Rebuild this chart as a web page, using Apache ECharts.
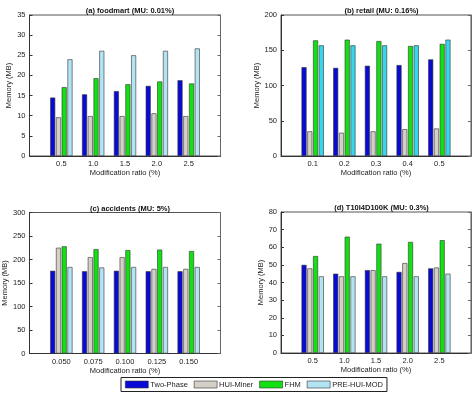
<!DOCTYPE html>
<html>
<head>
<meta charset="utf-8">
<script src="https://cdn.jsdelivr.net/npm/echarts@6/dist/echarts.min.js"></script>
<style>
  html, body { margin: 0; padding: 0; background: #fff; }
  #app { width: 474px; height: 399px; }
</style>
</head>
<body>
<div id="app"></div>
<script>
// series names (legend order)
const methods = ["Two-Phase", "HUI-Miner", "FHM", "PRE-HUI-MOD"];

// (a) foodmart
const foodmartRatios = ["0.5", "1.0", "1.5", "2.0", "2.5"];
const foodmartTwoPhase = [14.5, 15.3, 16.1, 17.4, 18.8];
const foodmartHUIMiner = [9.6, 9.9, 9.9, 10.6, 9.9];
const foodmartFHM = [17.1, 19.3, 17.8, 18.5, 18.0];
const foodmartPRE = [24.0, 26.1, 25.0, 26.1, 26.7];

// (b) retail
const retailRatios = ["0.1", "0.2", "0.3", "0.4", "0.5"];
const retailTwoPhase = [126, 125, 128, 129, 137];
const retailHUIMiner = [35, 33, 35, 38, 39];
const retailFHM = [164, 165, 163, 156, 159];
const retailPRE = [157, 157, 157, 157, 165];

// (c) accidents
const accidentsRatios = ["0.050", "0.075", "0.100", "0.125", "0.150"];
const accidentsTwoPhase = [176, 175, 176, 175, 175];
const accidentsHUIMiner = [225, 205, 205, 180, 180];
const accidentsFHM = [228, 222, 220, 221, 218];
const accidentsPRE = [184, 183, 184, 184, 184];

// (d) T10I4D100K
const t10Ratios = ["0.5", "1.0", "1.5", "2.0", "2.5"];
const t10TwoPhase = [50, 45, 47, 46, 48];
const t10HUIMiner = [48, 43.5, 47, 51, 48.5];
const t10FHM = [55, 66, 62, 63, 64];
const t10PRE = [43.5, 43.5, 43.5, 43.5, 45];

const panels = [
  { title: "(a) foodmart (MU: 0.01%)", cats: foodmartRatios, max: 35, step: 5,
    values: [foodmartTwoPhase, foodmartHUIMiner, foodmartFHM, foodmartPRE],
    grid: { left: 29.5, top: 15, width: 191, height: 141 }, yGap: 15 },
  { title: "(b) retail (MU: 0.16%)", cats: retailRatios, max: 200, step: 50,
    values: [retailTwoPhase, retailHUIMiner, retailFHM, retailPRE],
    grid: { left: 281, top: 15, width: 191, height: 141 }, yGap: 19, preColor: "#36d6ec" },
  { title: "(c) accidents (MU: 5%)", cats: accidentsRatios, max: 300, step: 50,
    values: [accidentsTwoPhase, accidentsHUIMiner, accidentsFHM, accidentsPRE],
    grid: { left: 29.5, top: 212.5, width: 191, height: 141 }, yGap: 18 },
  { title: "(d) T10I4D100K (MU: 0.3%)", cats: t10Ratios, max: 80, step: 10,
    values: [t10TwoPhase, t10HUIMiner, t10FHM, t10PRE],
    grid: { left: 281, top: 212, width: 191, height: 141 }, yGap: 14 }
];

const colors = ["#0a0ad6", "#d4d0c8", "#12e012", "#b2e4f4"];
const font = "Arial, 'Liberation Sans', sans-serif";
const fs = 7.5;

const grids = [], xAxes = [], yAxes = [], titles = [], series = [];

panels.forEach((p, k) => {
  grids.push(Object.assign({ show: true, borderColor: "#555", borderWidth: 1, backgroundColor: "#fff" }, p.grid));
  titles.push({
    text: p.title,
    left: p.grid.left + p.grid.width / 2,
    top: p.grid.top - 13,
    textAlign: "center",
    textStyle: { fontFamily: font, fontSize: fs, fontWeight: "bold", color: "#111" }
  });
  xAxes.push({
    type: "value", gridIndex: k, min: 0, max: 6, interval: 1,
    name: "Modification ratio (%)", nameLocation: "middle", nameGap: 13,
    nameTextStyle: { fontFamily: font, fontSize: fs, color: "#222" },
    axisLine: { lineStyle: { color: "#333" } },
    axisTick: { show: false },
    splitLine: { show: false },
    axisLabel: {
      fontFamily: font, fontSize: fs, color: "#222", margin: 4,
      formatter: v => p.cats[v - 1] || ""
    }
  });
  yAxes.push({
    type: "value", gridIndex: k, min: 0, max: p.max, interval: p.step,
    name: "Memory (MB)", nameLocation: "middle", nameGap: p.yGap,
    nameTextStyle: { fontFamily: font, fontSize: fs, color: "#222" },
    axisLine: { show: true, lineStyle: { color: "#333" } },
    axisTick: { show: true, inside: true, length: 3, lineStyle: { color: "#333" } },
    splitLine: { show: false },
    axisLabel: { fontFamily: font, fontSize: fs, color: "#222", margin: 4 }
  });
  yAxes.push({
    type: "value", gridIndex: k, position: "right", min: 0, max: p.max, interval: p.step,
    axisLine: { show: true, lineStyle: { color: "#666" } },
    axisTick: { show: true, inside: true, length: 3, lineStyle: { color: "#666" } },
    splitLine: { show: false },
    axisLabel: { show: false }
  });
  p.values.forEach((vals, m) => {
    let c = colors[m];
    if (m === 3 && p.preColor) c = p.preColor;
    series.push({
      name: methods[m],
      type: "bar",
      xAxisIndex: k,
      yAxisIndex: k * 2,
      barWidth: 5,
      barGap: "15%",
      itemStyle: { color: c, borderColor: "#333", borderWidth: 0.6 },
      data: vals.map((v, i) => [i + 1, v])
    });
  });
});

const chart = echarts.init(document.getElementById("app"));
chart.setOption({
  animation: false,
  backgroundColor: "#fff",
  title: titles,
  grid: grids,
  xAxis: xAxes,
  yAxis: yAxes,
  legend: {
    data: methods,
    left: 121,
    top: 377.5,
    orient: "horizontal",
    itemWidth: 23,
    itemHeight: 7,
    itemGap: 6,
    padding: [3, 4, 3, 4],
    borderColor: "#222",
    borderWidth: 1,
    icon: "rect",
    itemStyle: { borderColor: "#333", borderWidth: 0.6 },
    textStyle: { fontFamily: font, fontSize: fs, color: "#222", padding: [0, 0, 0, -3] }
  },
  series: series
});
window.onresize = function () { chart.resize(); };
</script>
</body>
</html>
